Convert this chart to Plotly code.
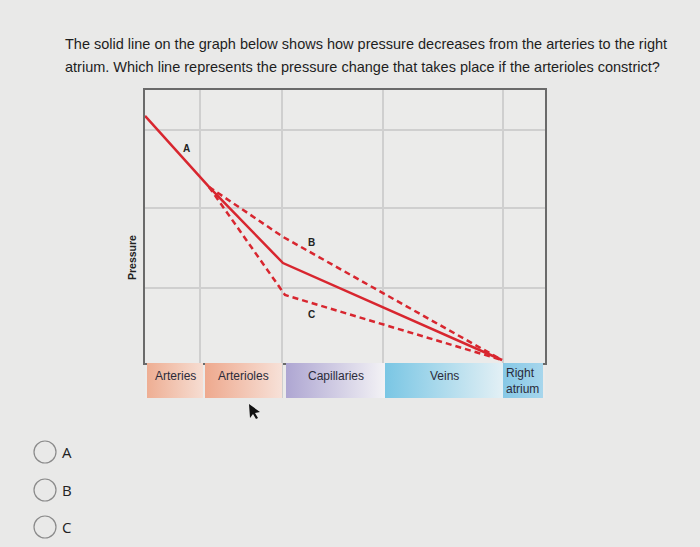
import plotly.graph_objects as go

# ---------------- data ----------------
question_lines = [
    "The solid line on the graph below shows how pressure decreases from the arteries to the right",
    "atrium. Which line represents the pressure change that takes place if the arterioles constrict?",
]
options = ["A", "B", "C"]

stage_names = ["Arteries", "Arterioles", "Capillaries", "Veins", "Right<br>atrium"]
stage_left = [0.5, 15.0, 35.25, 60.0, 89.5]
stage_right = [14.5, 34.25, 60.0, 89.5, 99.5]
stage_colors = [
    ["#eeae93", "#f6ddd2"],
    ["#eea98e", "#f7e1d8"],
    ["#aea6d2", "#f3f2f5"],
    ["#7ac6e4", "#e3f0f5"],
    ["#86c8e6", "#a7d6ec"],
]

grid_x = [13.75, 34.25, 59.5, 89.5]
grid_y = [27.5, 56.8, 85.3]

solid_x = [0, 16.0, 34.5, 89.25]
solid_y = [90.5, 64.5, 36.6, 1.1]
b_x = [16.0, 34.5, 89.25]
b_y = [64.5, 46.2, 1.1]
c_x = [16.0, 35.0, 89.25]
c_y = [64.5, 24.9, 1.1]

line_labels = ["A", "B", "C"]
label_x = [10.25, 41.5, 41.5]
label_y = [78.4, 44.0, 17.6]

# ---------------- figure ----------------
W, H = 700, 547
RED = "#d8262f"
BG = "#e9e9e8"
fig = go.Figure()

fig.add_trace(go.Scatter(x=solid_x, y=solid_y, mode="lines",
                         line=dict(color=RED, width=2.5), hoverinfo="skip"))
fig.add_trace(go.Scatter(x=b_x, y=b_y, mode="lines",
                         line=dict(color=RED, width=2.5, dash="6px,4px"), hoverinfo="skip"))
fig.add_trace(go.Scatter(x=c_x, y=c_y, mode="lines",
                         line=dict(color=RED, width=2.5, dash="6px,4px"), hoverinfo="skip"))

# stage bands (on second y axis below the plot)
for name, l, r, cols in zip(stage_names, stage_left, stage_right, stage_colors):
    fig.add_trace(go.Scatter(
        x=[l, r, r, l, l], y=[0, 0, 1, 1, 0], yaxis="y2", mode="lines",
        line=dict(width=0), fill="toself",
        fillgradient=dict(type="horizontal", colorscale=[[0, cols[0]], [1, cols[1]]]),
        hoverinfo="skip"))

annotations = []
for name, l, r in zip(stage_names, stage_left, stage_right):
    if "<br>" in name:
        annotations.append(dict(x=l + 0.3, y=0.5, xref="x", yref="y2", text=name,
                                showarrow=False, xanchor="left", yanchor="middle", align="left",
                                font=dict(family="Liberation Sans, Arial", size=12, color="#2b2b3a")))
    else:
        annotations.append(dict(x=(l + r) / 2, y=0.62, xref="x", yref="y2", text=name,
                                showarrow=False, xanchor="center", yanchor="middle",
                                font=dict(family="Liberation Sans, Arial", size=12, color="#2b2b3a")))

for t, x, y in zip(line_labels, label_x, label_y):
    annotations.append(dict(x=x, y=y, xref="x", yref="y", text="<b>%s</b>" % t,
                            showarrow=False, font=dict(family="Liberation Sans, Arial",
                                                       size=10, color="#222")))

annotations.append(dict(x=132 / W, y=1 - 258 / H, xref="paper", yref="paper",
                        xanchor="center", yanchor="middle",
                        text="<b>Pressure</b>", textangle=-90, showarrow=False,
                        font=dict(family="Liberation Sans, Arial", size=10.5, color="#222")))

for i, line in enumerate(question_lines):
    annotations.append(dict(x=63 / W, y=1 - (44 + 23 * i) / H, xref="paper", yref="paper",
                            text=line, showarrow=False, xanchor="left", yanchor="middle",
                            font=dict(family="Liberation Sans, Arial", size=14.5, color="#1e1e1e")))

shapes = []
opt_y = [452, 490, 527]
for opt, py in zip(options, opt_y):
    annotations.append(dict(x=60 / W, y=1 - py / H, xref="paper", yref="paper", text=opt,
                            showarrow=False, xanchor="left", yanchor="middle",
                            font=dict(family="Open Sans, Liberation Sans", size=15, color="#222")))
    shapes.append(dict(type="circle", xref="paper", yref="paper", xsizemode="pixel",
                       ysizemode="pixel", xanchor=45 / W, yanchor=1 - py / H,
                       x0=-11, x1=11, y0=-11, y1=11,
                       line=dict(color="#8a8a8a", width=1.2), fillcolor="rgba(0,0,0,0)"))

# mouse cursor
shapes.append(dict(type="path", xref="paper", yref="paper", xsizemode="pixel",
                   ysizemode="pixel", xanchor=249 / W, yanchor=1 - 404 / H,
                   path="M0,0 L1,-14 L4,-10 L7,-15 L9,-14 L6,-9 L11,-8 Z",
                   fillcolor="#111", line=dict(width=0)))

fig.update_layout(
    width=W, height=H,
    margin=dict(l=0, r=0, t=0, b=0),
    paper_bgcolor=BG,
    plot_bgcolor="#ebebea",
    showlegend=False,
    annotations=annotations,
    shapes=shapes,
    xaxis=dict(domain=[145 / W, 545 / W], range=[0, 100], tickvals=grid_x,
               showticklabels=False, ticks="", showgrid=True, gridcolor="#cfcfcf",
               gridwidth=1.5, zeroline=False, showline=True, mirror=True,
               linecolor="#6a6a6a", linewidth=1.5, anchor="y"),
    yaxis=dict(domain=[1 - 363 / H, 1 - 90 / H], range=[0, 100], tickvals=grid_y,
               showticklabels=False, ticks="", showgrid=True, gridcolor="#cfcfcf",
               gridwidth=1.5, zeroline=False, showline=True, mirror=True,
               linecolor="#6a6a6a", linewidth=1.5),
    yaxis2=dict(domain=[1 - 398 / H, 1 - 363 / H], range=[0, 1], anchor="x",
                showticklabels=False, showgrid=False, zeroline=False, ticks=""),
)

fig.write_html("out.html", config={"displayModeBar": False},
               post_script="document.body.style.margin='0';document.body.style.background='%s';" % BG)
